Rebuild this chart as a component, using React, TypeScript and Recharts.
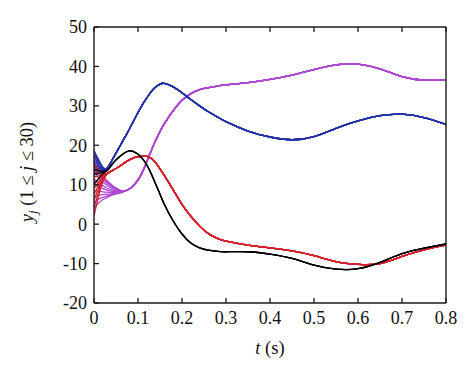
import React from 'react';
import { LineChart, Line, XAxis, YAxis } from 'recharts';

const times = [0, 0.01, 0.02, 0.03, 0.04, 0.05, 0.06, 0.07, 0.08, 0.09, 0.1, 0.11, 0.12, 0.13, 0.14, 0.15, 0.16, 0.18, 0.2, 0.22, 0.24, 0.26, 0.28, 0.3, 0.35, 0.4, 0.45, 0.5, 0.55, 0.6, 0.65, 0.7, 0.75, 0.8];

const blueGroup = [15.5, 14.5, 13.6, 14.2, 16.0, 18.0, 20.0, 22.0, 24.0, 26.2, 28.3, 30.3, 32.0, 33.6, 34.8, 35.5, 35.7, 34.8, 33.3, 31.6, 30.0, 28.5, 27.2, 26.0, 23.6, 22.1, 21.4, 22.2, 24.3, 26.2, 27.5, 27.9, 27.0, 25.3];
const magentaGroup = [10, 9.8, 9.4, 9.0, 8.6, 8.4, 8.3, 8.4, 8.9, 9.8, 11.2, 13.2, 15.8, 18.6, 21.2, 23.5, 25.5, 28.8, 31.4, 33.1, 34.1, 34.6, 35.0, 35.3, 35.9, 36.7, 37.8, 39.2, 40.4, 40.6, 39.4, 37.4, 36.5, 36.6];
const redGroup = [10, 11, 12, 12.8, 13.5, 14.1, 14.8, 15.6, 16.3, 16.8, 17.1, 17.2, 17.2, 16.7, 15.6, 14.0, 12.3, 8.7, 5.0, 2.0, -0.5, -2.4, -3.6, -4.3, -5.3, -6.0, -6.8, -8.0, -9.5, -10.2, -10.0, -8.2, -6.5, -5.3];
const blackGroup = [12, 12.5, 13, 13.6, 15.0, 16.3, 17.3, 18.1, 18.6, 18.4, 17.7, 16.6, 15.0, 12.8, 10.2, 7.6, 5.0, 0.8, -2.5, -4.8, -6.0, -6.6, -6.9, -7.0, -7.0, -7.6, -8.7, -10.4, -11.4, -11.3, -9.7, -7.5, -6.1, -5.0];

// initial transients of the 30 agents (values at the first time points)
const blueAgents = [
  [18.5, 16.5, 14.5],
  [17.8, 16.0, 14.3],
  [17.0, 15.4, 14.0],
  [16.2, 14.8, 13.8],
  [15.4, 14.2, 13.6],
  [14.6, 13.7, 13.5],
  [13.8, 13.2, 13.3],
  [13.0, 12.8, 13.2],
];
const magentaAgents = [
  [19.0, 15.2, 12.6, 11.0, 10.0, 9.2, 8.6],
  [17.8, 14.4, 12.1, 10.7, 9.8, 9.0, 8.5],
  [16.0, 13.3, 11.4, 10.3, 9.5, 8.8, 8.4],
  [13.5, 11.8, 10.6, 9.8, 9.1, 8.6, 8.3],
  [11.5, 10.5, 9.7, 9.1, 8.7, 8.4, 8.2],
  [10.0, 9.5, 9.0, 8.6, 8.3, 8.2, 8.1],
  [8.5, 8.4, 8.2, 8.1, 8.0, 8.0, 8.1],
  [7.0, 7.3, 7.5, 7.6, 7.7, 7.9, 8.0],
  [5.5, 6.3, 6.8, 7.2, 7.5, 7.8, 8.0],
  [4.0, 5.3, 6.2, 6.8, 7.3, 7.6, 7.9],
];
const redAgents = [
  [15.0, 13.8, 13.0],
  [13.5, 13.0, 12.8],
  [12.0, 12.2, 12.5],
  [10.5, 11.4, 12.2],
  [9.0, 10.6, 11.9],
  [7.5, 9.8, 11.6],
  [6.0, 9.0, 11.3],
  [4.0, 8.0, 11.0],
  [2.0, 7.0, 10.7],
];
const blackAgents = [
  [12.5, 12.8, 13.1],
  [10.0, 11.5, 12.7],
  [14.0, 13.6, 13.4],
];

const xTicks = [0, 0.1, 0.2, 0.3, 0.4, 0.5, 0.6, 0.7, 0.8];
const yTicks = [-20, -10, 0, 10, 20, 30, 40, 50];

const groups = [
  { agents: magentaAgents, base: magentaGroup, color: '#ae48d2' },
  { agents: blueAgents, base: blueGroup, color: '#2533a8' },
  { agents: redAgents, base: redGroup, color: '#d3222e' },
  { agents: blackAgents, base: blackGroup, color: '#000000' },
];

const series: { key: string; color: string }[] = [];
const rows: Record<string, number>[] = times.map((t) => ({ t }));
let n = 0;
groups.forEach((g) => {
  g.agents.forEach((a) => {
    const key = 'a' + n++;
    series.push({ key, color: g.color });
    times.forEach((_, i) => {
      rows[i][key] = i < a.length ? a[i] : g.base[i];
    });
  });
});

const FONT = "'Liberation Serif'";
const AX = '#1a1a1a';
const tickStyle = { fontFamily: FONT, fontSize: 18, fill: '#111', style: { fontFamily: FONT } };
const axisLine = { stroke: AX, strokeWidth: 1.4 };
const tickLine = { stroke: AX, strokeWidth: 1.3 };
const blank = () => '';

export default function App() {
  return (
    <div style={{ position: 'absolute', left: 0, top: 0, width: 474, height: 379, background: '#fff', fontFamily: FONT }}>
      <LineChart
        width={474}
        height={379}
        data={rows}
        margin={{ top: 26, right: 27, bottom: 36, left: 54 }}
        style={{ fontFamily: FONT }}
      >
        <XAxis
          dataKey="t"
          type="number"
          domain={[0, 0.8]}
          ticks={xTicks}
          tickFormatter={(v: number) => String(Math.round(v * 10) / 10)}
          height={40}
          tickSize={-5}
          tickMargin={13}
          axisLine={axisLine}
          tickLine={tickLine}
          tick={tickStyle}
          allowDataOverflow
        />
        <XAxis
          xAxisId="top"
          orientation="top"
          dataKey="t"
          type="number"
          domain={[0, 0.8]}
          ticks={xTicks}
          tickFormatter={blank}
          height={1}
          tickSize={-5}
          axisLine={axisLine}
          tickLine={tickLine}
        />
        <YAxis
          type="number"
          domain={[-20, 50]}
          ticks={yTicks}
          width={40}
          tickSize={-5}
          tickMargin={12}
          axisLine={axisLine}
          tickLine={tickLine}
          tick={tickStyle}
          allowDataOverflow
        />
        <YAxis
          yAxisId="right"
          orientation="right"
          type="number"
          domain={[-20, 50]}
          ticks={yTicks}
          width={1}
          tickSize={-5}
          tickFormatter={blank}
          axisLine={axisLine}
          tickLine={tickLine}
        />
        {series.map((s) => (
          <Line
            key={s.key}
            dataKey={s.key}
            type="natural"
            stroke={s.color}
            strokeWidth={1.3}
            dot={false}
            activeDot={false}
            isAnimationActive={false}
          />
        ))}
      </LineChart>
      <svg width={474} height={379} style={{ position: 'absolute', left: 0, top: 0, pointerEvents: 'none' }}>
        <text x={270} y={354} textAnchor="middle" style={{ fontFamily: FONT }} fontSize={18.5} fill="#111">
          <tspan fontStyle="italic">t</tspan>
          <tspan> (s)</tspan>
        </text>
        <text transform="translate(33,172) rotate(-90)" textAnchor="middle" style={{ fontFamily: FONT }} fontSize={18.5} fill="#111">
          <tspan fontStyle="italic">y</tspan>
          <tspan fontStyle="italic" fontSize={13} dy={4}>j</tspan>
          <tspan dy={-4}>{'  (1 ≤ '}</tspan>
          <tspan fontStyle="italic">j</tspan>
          <tspan>{' ≤ 30)'}</tspan>
        </text>
      </svg>
    </div>
  );
}
